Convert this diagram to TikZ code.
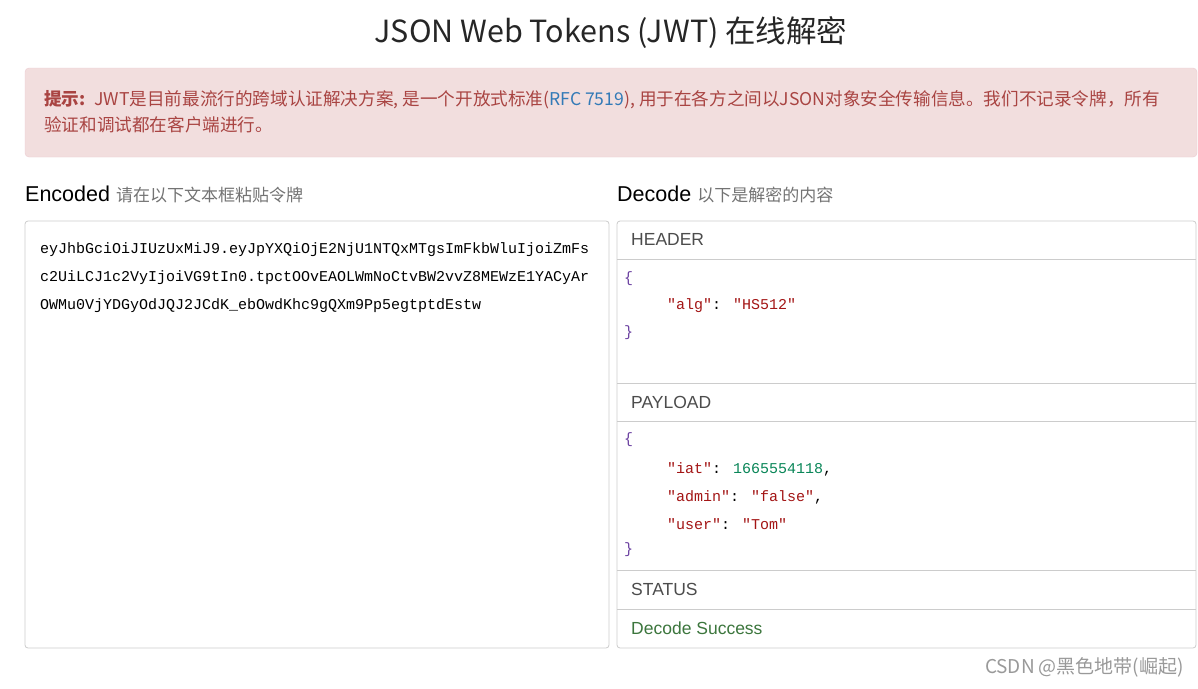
\documentclass[tikz,border=0pt]{standalone}
\usepackage{fontspec}
\setmainfont{Liberation Sans}
\newfontfamily\cjk{Noto Sans CJK SC}
\newfontfamily\monof{Liberation Mono}
\definecolor{alertbg}{HTML}{F2DEDE}
\definecolor{alertbd}{HTML}{EBCCD1}
\definecolor{alerttx}{HTML}{A94442}
\definecolor{linkc}{HTML}{337AB7}
\definecolor{bord}{HTML}{CCCCCC}
\definecolor{keyc}{HTML}{A31515}
\definecolor{numc}{HTML}{098658}
\definecolor{brc}{HTML}{6A3FA0}
\definecolor{okc}{HTML}{3C763D}
\begin{document}
\begin{tikzpicture}[x=1pt,y=-1pt,
  lbl/.style={anchor=west,inner sep=0pt},
  code/.style={anchor=west,inner sep=0pt,font=\monof\fontsize{15}{18}\selectfont},
  panel/.style={draw=bord,rounded corners=3pt,line width=0.8pt}]
\useasboundingbox (0,0) rectangle (1198,688);
\fill[white] (0,0) rectangle (1198,688);
\node[inner sep=0pt,font=\fontsize{30.5}{34}\selectfont\cjk,text=black!85] (title) at (611,33) {JSON Web Tokens (JWT) 在线解密};
\draw[fill=alertbg,draw=alertbd,rounded corners=4pt] (25,68) rectangle (1197,157);
\node[lbl,text=alerttx,font=\cjk\fontsize{17.6}{20}\selectfont] (a1) at (44,100) {\textbf{提示:}\enspace JWT是目前最流行的跨域认证解决方案, 是一个开放式标准(\textcolor{linkc}{RFC 7519}), 用于在各方之间以JSON对象安全传输信息。我们不记录令牌，所有};
\node[lbl,text=alerttx,font=\cjk\fontsize{17.6}{20}\selectfont] (a2) at (44,125) {验证和调试都在客户端进行。};
\node[lbl,font=\fontsize{21.5}{24}\selectfont] (enc) at (25,194) {Encoded \textcolor{black!55}{\cjk\fontsize{17}{18}\selectfont 请在以下文本框粘贴令牌}};
\node[lbl,font=\fontsize{21.5}{24}\selectfont] (dec) at (617,194) {Decode \textcolor{black!55}{\cjk\fontsize{17}{18}\selectfont 以下是解密的内容}};
\draw[panel] (25,221) rectangle (609,648);
\draw[panel] (617,221) rectangle (1196,648);
\foreach \y in {259,383,421,570,609} \draw[bord,line width=0.8pt] (617,\y) -- (1196,\y);
\node[code] (t1) at (40,250) {eyJhbGciOiJIUzUxMiJ9.eyJpYXQiOjE2NjU1NTQxMTgsImFkbWluIjoiZmFs};
\node[code] (t2) at (40,278) {c2UiLCJ1c2VyIjoiVG9tIn0.tpctOOvEAOLWmNoCtvBW2vvZ8MEWzE1YACyAr};
\node[code] (t3) at (40,306) {OWMu0VjYDGyOdJQJ2JCdK\_ebOwdKhc9gQXm9Pp5egtptdEstw};
\node[lbl,text=black!70,font=\fontsize{17.5}{20}\selectfont] (h) at (631,239) {HEADER};
\node[lbl,text=black!70,font=\fontsize{17.5}{20}\selectfont] (p) at (631,402) {PAYLOAD};
\node[lbl,text=black!70,font=\fontsize{17.5}{20}\selectfont] (s) at (631,589) {STATUS};
\node[lbl,text=okc,font=\fontsize{17.5}{20}\selectfont] (ok) at (631,628) {Decode Success};
\node[code,text=brc] (b1) at (624,279) {\{};
\node[code,text=keyc] (l1) at (667,306) {"alg"\textcolor{black}{:} "HS512"};
\node[code,text=brc] (b2) at (624,333) {\}};
\node[code,text=brc] (b3) at (624,440) {\{};
\node[code,text=keyc] (l2) at (667,469) {"iat"\textcolor{black}{:} \textcolor{numc}{1665554118}\textcolor{black}{,}};
\node[code,text=keyc] (l3) at (667,497) {"admin"\textcolor{black}{:} "false"\textcolor{black}{,}};
\node[code,text=keyc] (l4) at (667,524) {"user"\textcolor{black}{:} "Tom"};
\node[code,text=brc] (b4) at (624,550) {\}};
\node[anchor=east,inner sep=0pt,text=black!40,font=\cjk\fontsize{19}{20}\selectfont] (wm) at (1184,667) {CSDN @黑色地带(崛起)};
\end{tikzpicture}
\end{document}
